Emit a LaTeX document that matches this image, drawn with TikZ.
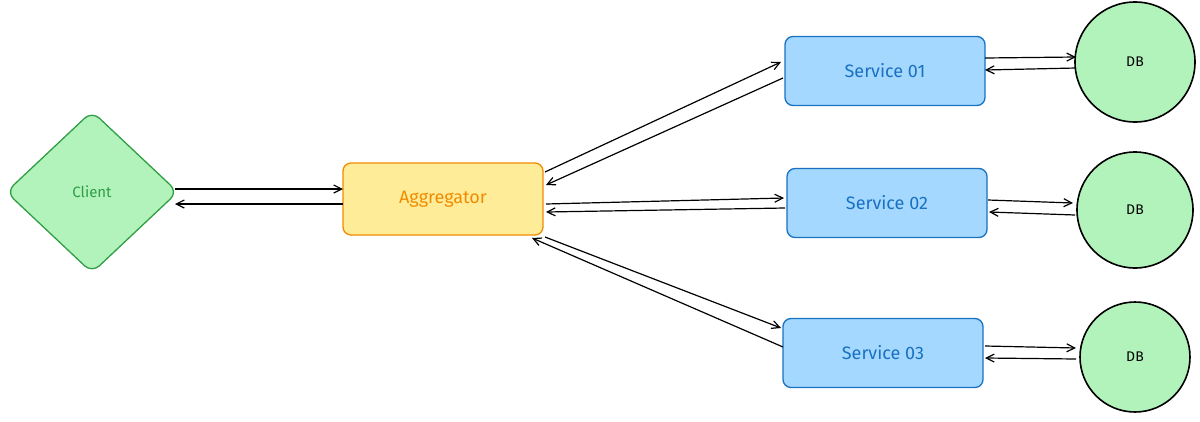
\documentclass[tikz,border=0pt]{standalone}
\usepackage{fontspec}
\setmainfont{Fira Sans}
\usetikzlibrary{shapes.geometric,arrows.meta}
\definecolor{gfill}{HTML}{B2F2BB}\definecolor{gline}{HTML}{2F9E44}
\definecolor{yfill}{HTML}{FFEC99}\definecolor{yline}{HTML}{F08C00}
\definecolor{bfill}{HTML}{A5D8FF}\definecolor{bline}{HTML}{1971C2}
\tikzset{
 svc/.style={draw=bline,fill=bfill,text=bline,rounded corners=8pt,line width=1.3pt,minimum width=200pt,minimum height=69pt,font=\fontsize{18}{20}\selectfont},
 db/.style={circle,draw=black,fill=gfill,line width=1.6pt,font=\fontsize{14}{16}\selectfont},
 ar/.style={-{Straight Barb[length=8pt,width=8pt]},line width=1.2pt,black}
}
\begin{document}
\begin{tikzpicture}[x=1pt,y=-1pt]
\useasboundingbox (0,0) rectangle (1200,421);
\node[diamond,draw=gline,fill=gfill,text=gline,line width=1.3pt,rounded corners=10pt,minimum width=172pt,minimum height=162pt,inner sep=0pt,font=\fontsize{15}{16}\selectfont] (cl) at (92,192) {Client};
\node[draw=yline,fill=yfill,text=yline,rounded corners=8pt,line width=1.3pt,minimum width=200pt,minimum height=72pt,font=\fontsize{18}{20}\selectfont] (ag) at (443,199) {Aggregator};
\node[svc] (s1) at (885,71) {Service 01};
\node[svc] (s2) at (887,203) {Service 02};
\node[svc] (s3) at (883,353) {Service 03};
\node[db,minimum size=120pt] (d1) at (1135,62) {DB};
\node[db,minimum size=116pt] (d2) at (1135,210) {DB};
\node[db,minimum size=110pt] (d3) at (1135,357) {DB};
\coordinate (c1) at (175,189);\coordinate (c2) at (175,204);
\draw[ar] (c1) -- (343,189);
\draw[ar] (343,204) -- (c2);
\draw[ar] (545,172) -- (781,62);
\draw[ar] (783,78) -- (546,185);
\draw[ar] (546,204) -- (784,198);
\draw[ar] (785,208) -- (546,212);
\draw[ar] (545,237) -- (781,328);
\draw[ar] (783,347) -- (532,238);
\draw[ar] (985,58) -- (1076,57);
\draw[ar] (1076,68) -- (985,70);
\draw[ar] (988,200) -- (1073,203);
\draw[ar] (1075,215) -- (989,212);
\draw[ar] (985,346) -- (1076,348);
\draw[ar] (1076,359) -- (985,358);
\end{tikzpicture}
\end{document}
